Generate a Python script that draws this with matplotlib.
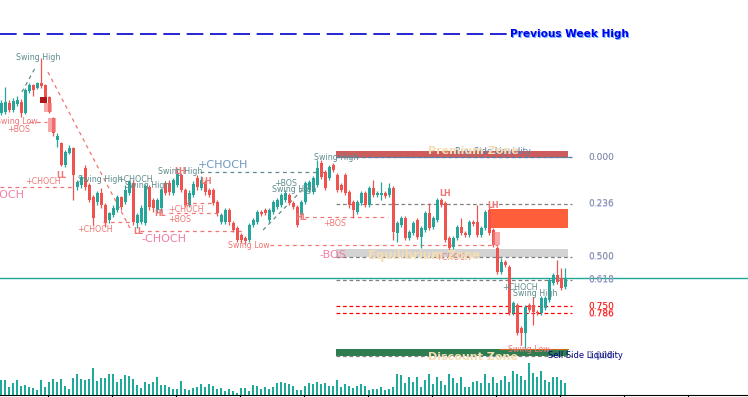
import matplotlib
matplotlib.use("Agg")
import matplotlib.pyplot as plt
import numpy as np
from matplotlib.patches import Rectangle

# ---------------- data (price units) ----------------
opens = [287,288,297,290,296,298,287,309,315,312,
         317,315,303,282,260,257,235,247,252,213,
         215,232,215,203,198,207,195,180,185,190,
         203,198,207,217,177,178,177,213,200,190,
         192,217,217,207,215,225,210,195,205,222,
         212,218,210,210,198,178,178,190,177,172,
         165,162,160,175,178,188,190,180,188,193,
         195,200,205,197,193,185,198,210,208,215,
         237,228,222,235,225,215,225,208,198,188,
         197,207,195,212,205,205,207,205,212,167,
         175,182,162,167,180,163,170,187,173,180,
         200,197,162,153,162,173,167,165,178,178,
         165,172,190,170,152,128,138,133,87,95,
         72,67,95,95,88,87,92,100,117,125,
         122,113]
closes = [297,298,290,299,300,287,310,315,310,317,
          314,300,288,267,264,235,248,252,225,218,
          223,213,200,182,207,195,178,187,192,203,
          193,210,218,178,185,192,214,193,192,200,
          210,207,208,220,227,210,195,207,216,213,
          220,208,205,197,187,185,190,178,170,160,
          160,159,175,180,188,186,187,190,198,200,
          205,207,197,193,175,198,217,218,222,232,
          223,212,233,230,210,210,207,195,190,198,
          207,195,212,205,207,207,204,212,168,177,
          182,162,168,177,163,172,187,172,182,200,
          195,160,152,162,173,167,165,178,176,165,
          172,188,167,155,128,138,135,87,97,67,
          67,93,90,88,87,102,102,120,125,118,
          112,122]
highs = [300,313,300,302,304,301,312,317,316,318,
         342,316,304,283,267,258,250,255,253,220,
         225,235,217,205,209,212,197,188,195,205,
         204,215,220,220,187,195,216,215,202,202,
         212,219,220,222,232,227,212,210,219,225,
         224,220,212,212,200,187,192,192,179,174,
         167,164,177,182,190,190,192,192,200,202,
         207,210,207,199,195,200,219,220,224,240,
         240,230,235,237,227,217,227,210,200,200,
         209,209,214,220,209,218,209,217,214,179,
         184,184,170,179,182,174,189,197,184,202,
         202,199,164,164,175,182,169,180,180,195,
         174,190,195,172,154,142,140,135,99,97,
         74,95,97,103,90,104,104,122,127,140,
         132,132]
lows = [285,286,288,288,294,283,286,307,304,311,
        312,299,287,264,253,234,233,246,200,210,
        212,210,198,175,195,192,173,177,183,188,
        190,196,205,175,172,176,175,190,188,187,
        188,205,205,205,213,208,193,193,203,210,
        210,205,203,195,184,176,176,175,168,158,
        157,156,158,173,176,184,185,178,186,191,
        193,198,195,191,173,183,196,208,206,213,
        221,210,220,228,208,208,205,192,182,186,
        195,193,193,203,203,200,202,203,160,158,
        173,160,160,165,161,152,168,170,171,178,
        193,158,150,151,160,165,163,163,174,163,
        163,170,165,153,126,126,133,85,85,65,
        55,50,88,75,85,85,90,98,115,116,
        110,111]
volume = [15,15,8,12,15,9,10,8,7,5,15,8,13,16,13,16,9,6,17,21,
          16,15,16,27,14,17,17,21,21,13,16,20,19,16,10,7,13,11,13,18,
          10,10,8,6,6,14,6,5,7,8,11,8,11,9,6,7,4,6,4,2,
          7,7,4,10,9,6,8,6,8,12,13,12,11,9,5,5,9,12,11,13,
          11,12,9,9,15,8,11,9,7,9,11,9,5,6,6,8,5,6,8,21,
          20,12,18,13,18,8,15,21,11,18,14,10,21,17,12,18,8,8,13,14,
          12,21,12,18,12,15,19,13,24,21,19,15,32,22,18,24,15,13,18,18,
          15,12]

prev_week_high = 366
current_price = 122
fib_top, fib_bottom = 243, 44
fib_ratios = [0.0, 0.236, 0.5, 0.618, 0.75, 0.786, 1.0]
fib_labels = ["0.000", "0.236", "0.500", "0.618", "0.750", "0.786", "1.000"]
premium_zone = (242, 249)
equilibrium_zone = (143, 151)
discount_zone = (44, 51)
order_block = (172, 191)

# ---------------- figure ----------------
UP = "#26a69a"
DN = "#ef5350"
SALMON = "#f07575"
TEALGRAY = "#5e8c8c"
PINK = "#f27fa6"

fig = plt.figure(figsize=(7.48, 3.97), dpi=100)
ax = fig.add_axes([0, 2/397, 1, 395/397])
ax.set_xlim(-0.375, 186.625)
ax.set_ylim(5, 400)

n = len(opens)
x = np.arange(n)
o = np.array(opens, float); c = np.array(closes, float)
h = np.array(highs, float); l = np.array(lows, float)
up = c >= o
cols = np.where(up, UP, DN)

# zones
z0, z1 = 83.6, 141.6
ax.add_patch(Rectangle((z0, premium_zone[0]), z1 - z0, premium_zone[1] - premium_zone[0],
                       color="#cd5c5c", zorder=1, lw=0))
ax.add_patch(Rectangle((z0, equilibrium_zone[0]), z1 - z0, equilibrium_zone[1] - equilibrium_zone[0],
                       color="#d3d3d3", zorder=1, lw=0))
ax.add_patch(Rectangle((z0, discount_zone[0]), z1 - z0, discount_zone[1] - discount_zone[0],
                       color="#2e7d50", zorder=1, lw=0))
ax.add_patch(Rectangle((122.1, order_block[0]), z1 - 122.1, order_block[1] - order_block[0],
                       color="#ff5e3a", zorder=1, lw=0))
# order-block highlight boxes
ax.add_patch(Rectangle((9.6, 297), 1.9, 6, color="#b01818", zorder=4, lw=0))
ax.add_patch(Rectangle((10.6, 288), 2.0, 9, color="#f47a7a", alpha=0.65, zorder=4, lw=0))
ax.add_patch(Rectangle((11.6, 268), 2.0, 14, color="#f47a7a", alpha=0.65, zorder=4, lw=0))
ax.add_patch(Rectangle((122.9, 155), 1.8, 13, color="#f47a7a", alpha=0.65, zorder=4, lw=0))

# fib levels
fx0, fx1 = 83.6, 142.6
for r, lab in zip(fib_ratios, fib_labels):
    lvl = fib_top - r * (fib_top - fib_bottom)
    red = r in (0.75, 0.786)
    ax.plot([fx0, fx1], [lvl, lvl], color="#ff0000" if red else "#808080",
            lw=0.9, ls=(0, (3, 2.2)), zorder=2)
    ax.text(146.6 + 0.2, lvl - 0.6, lab, fontsize=6.5, color="#b5c4ff" if not red else "#ff9a9a",
            va="center", ha="left", zorder=5)
    ax.text(146.6, lvl, lab, fontsize=6.5, color="#ff1010" if red else "#858a99",
            va="center", ha="left", zorder=5)
# buy side liquidity dashed
ax.plot([fx0, fx1], [fib_top - 0.3, fib_top - 0.3], color="#4a82b8", lw=0.9, ls=(0, (3, 2)), zorder=2)

# current price line
ax.axhline(current_price, color="#20a898", lw=1.0, zorder=2)

# previous week high
ax.plot([-0.4, 126.6], [prev_week_high, prev_week_high], color="#0000cd", lw=1.2,
        dashes=(10, 4), zorder=2)
ax.text(127.5, prev_week_high - 0.8, "Previous Week High", fontsize=7.6, fontweight="bold",
        color="#66b3ff", va="center", ha="left", zorder=5)
ax.text(127.1, prev_week_high, "Previous Week High", fontsize=7.6, fontweight="bold",
        color="#0000ee", va="center", ha="left", zorder=5)

# structure lines
def dline(xs, ys, col):
    ax.plot(xs, ys, color=col, lw=0.9, ls=(0, (3, 3)), zorder=2)

dline([11.6, 32.1], [328, 172], SALMON)
dline([5.1, 8.4], [308, 332], TEALGRAY)
dline([7.0, 11.5], [278, 278], SALMON)
dline([-0.4, 18.4], [213, 213], SALMON)
dline([25.4, 32.6], [178, 178], SALMON)
dline([34.6, 60.9], [169, 169], SALMON)
dline([49.6, 82.1], [228, 228], TEALGRAY)
dline([46.0, 53.0], [197, 197], SALMON)
dline([42.0, 54.0], [187, 187], SALMON)
dline([65.4, 77.1], [170, 218], TEALGRAY)
dline([67.1, 124.1], [155, 155], SALMON)
dline([75.9, 96.6], [183, 183], SALMON)
ax.plot([124.6, 141.6], [51.5, 51.5], color="#d2691e", lw=0.8, zorder=2)

# candles
ax.vlines(x, l, h, colors=cols, lw=0.9, zorder=3)
body = np.maximum(np.abs(c - o), 0.8)
ax.bar(x, body, bottom=np.minimum(o, c), width=0.75, color=cols, lw=0, zorder=3)

# labels
def t(xp, yp, s, col, fs=5.7, bold=False):
    ax.text(xp, yp, s, fontsize=fs, color=col, ha="left", va="center",
            fontweight="bold" if bold else "normal", zorder=6)

t(3.6, 343, "Swing High", TEALGRAY)
t(-1.5, 278, "Swing Low", SALMON)
t(1.4, 271, "+BOS", SALMON)
t(13.8, 225, "LL", SALMON, bold=True)
t(5.9, 219, "+CHOCH", SALMON)
t(-5.6, 205, "-CHOCH", PINK, fs=8)
t(19.1, 220, "Swing High", TEALGRAY)
t(28.9, 221, "+CHOCH", TEALGRAY)
t(30.9, 215, "Swing High", TEALGRAY)
t(18.9, 171, "+CHOCH", SALMON)
t(32.9, 168, "LL", SALMON, bold=True)
t(35.1, 161, "-CHOCH", PINK, fs=8)
t(39.1, 229, "Swing High", TEALGRAY)
t(43.2, 228, "LH", SALMON, bold=True)
t(49.1, 235, "+CHOCH", "#7098c0", fs=8)
t(49.6, 218, "LH", SALMON, bold=True)
t(38.2, 187, "HL", SALMON, bold=True)
t(41.6, 190, "+CHOCH", SALMON)
t(45.4, 197, "LL", SALMON)
t(41.6, 180, "+BOS", SALMON)
t(56.6, 155, "Swing Low", SALMON)
t(68.2, 217, "+BOS", TEALGRAY)
t(67.6, 211, "Swing High", TEALGRAY)
t(73.4, 183, "HL", SALMON, bold=True)
t(80.4, 177, "+BOS", SALMON)
t(78.1, 243, "Swing High", TEALGRAY)
t(109.4, 207, "LH", SALMON, bold=True)
t(121.4, 195, "LH", SALMON, bold=True)
t(79.6, 145, "-BOS", PINK, fs=8)
t(108.4, 142, "+CHOCH", SALMON)
t(125.1, 113, "+CHOCH", TEALGRAY)
t(127.9, 107, "Swing High", TEALGRAY)
t(126.6, 51, "Swing Low", SALMON)

t(113.4, 248, "Buy Side Liquidity", "#5a7fb0", fs=6)
t(136.6, 44, "Sell Side Liquidity", "#000080", fs=6)
t(106.6, 249, "Premium Zone", "#f5deb3", fs=8, bold=True)
t(91.6, 145, "Equilibrium Zone", "#f5deb3", fs=8.5, bold=True)
t(106.6, 43, "Discount Zone", "#f5deb3", fs=8, bold=True)

# axis styling
for s in ("top", "right", "left"):
    ax.spines[s].set_visible(False)
ax.spines["bottom"].set_color("black")
ax.set_yticks([])
ax.set_xticks(np.arange(11.6, 187, 16))
ax.tick_params(axis="x", length=4, labelbottom=False, color="black")

# volume overlay
vax = ax.twinx()
vax.set_ylim(0, 395)
vax.bar(x, volume, width=0.5, color="#1fa998", edgecolor="none", lw=0, zorder=2)
vax.set_yticks([])
for s in vax.spines.values():
    s.set_visible(False)

fig.savefig("out.png", dpi=100)
